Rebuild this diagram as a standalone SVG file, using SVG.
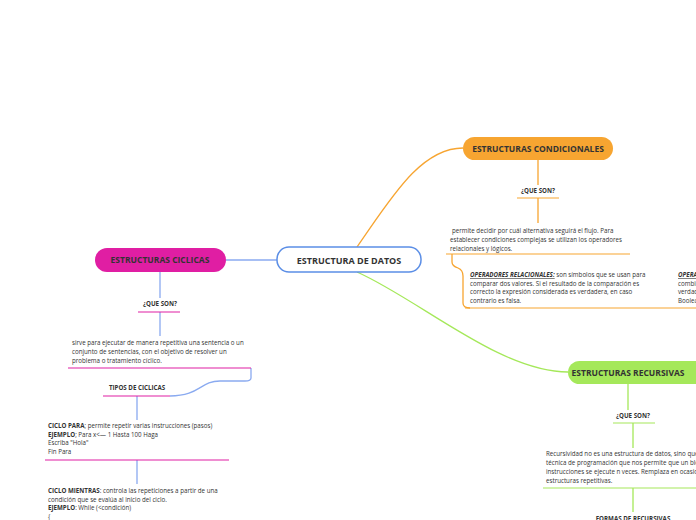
<svg xmlns="http://www.w3.org/2000/svg" width="696" height="520" viewBox="0 0 696 520">
<style>
text{font-family:"Open Sans","Liberation Sans",sans-serif;fill:#333}
.t{font-size:6.2px}
.b{font-weight:bold}
.h{font-size:8.5px;font-weight:bold;text-anchor:middle}
.q{font-size:6.2px;font-weight:bold;text-anchor:middle}
.o{stroke:#f7a531;fill:none}
.m{stroke:#e01ea3;fill:none}
.g{stroke:#a5e85a;fill:none}
.bl{stroke:#8aaaf0;fill:none}
</style>
<rect width="696" height="520" fill="#fff"/>
<g id="connectors" stroke-width="1.3">
<path class="bl" d="M277,260 H226"/>
<path class="o" d="M357,247 C390,200 420,148 463,148"/>
<path class="g" d="M357,272 C420,300 500,372 568,372"/>
<path class="o" d="M538,160 V185 M538,198 V223 M452,254 V262 Q452,266 458,268 Q463,270 463,276 V303 Q463,308 470,308"/>
<path class="bl" d="M160,272 V298 M160,312 V336 M137,396 V420 M137,460 V484"/>
<path class="bl" d="M251,368 V378 Q251,381 245,381 H220 C200,381 200,396 170,396"/>
<path class="g" d="M628,384 V410 M633,423 V448 M633,488 V512"/>
</g>
<g id="central">
<rect x="277" y="247" width="144" height="25" rx="12" fill="#fff" stroke="#5b8ee6" stroke-width="1.5"/>
<text x="349" y="263.5" class="h" style="font-size:9px">ESTRUCTURA DE DATOS</text>
</g>
<g id="ciclicas">
<rect x="95" y="248" width="131" height="24" rx="12" fill="#e01ea3"/>
<text x="160" y="263" class="h">ESTRUCTURAS CICLICAS</text>
<text x="160" y="306" class="q">¿QUE SON?</text>
<path class="m" d="M138,312 H180" stroke-width="1.2"/>
<text class="t"><tspan x="72" y="345">sirve para ejecutar de manera repetitiva una sentencia o un</tspan><tspan x="72" y="354">conjunto de sentencias, con el objetivo de resolver un</tspan><tspan x="72" y="363">problema o tratamiento cíclico.</tspan></text>
<path class="m" d="M68,368 H251" stroke-width="1.2"/>
<text x="137" y="390" class="q">TIPOS DE CICLICAS</text>
<path class="m" d="M103,396 H170" stroke-width="1.2"/>
<text class="t"><tspan x="48" y="428"><tspan class="b">CICLO PARA</tspan>; permite repetir varias instrucciones (pasos)</tspan><tspan x="48" y="436.5"><tspan class="b">EJEMPLO</tspan>; Para x&lt;— 1 Hasta 100 Haga</tspan><tspan x="48" y="445">Escriba "Hola"</tspan><tspan x="48" y="453.5">Fin Para</tspan></text>
<path class="m" d="M45,460 H229" stroke-width="1.2"/>
<text class="t"><tspan x="48" y="493"><tspan class="b">CICLO MIENTRAS</tspan>: controla las repeticiones a partir de una</tspan><tspan x="48" y="501.5">condición que se evalúa al inicio del ciclo.</tspan><tspan x="48" y="510"><tspan class="b">EJEMPLO</tspan>: While (&lt;condición)</tspan><tspan x="48" y="518.5">{</tspan></text>
</g>
<g id="condicionales">
<rect x="463" y="137" width="150" height="23" rx="11.5" fill="#f7a531"/>
<text x="538" y="151.5" class="h">ESTRUCTURAS CONDICIONALES</text>
<text x="538" y="193" class="q">¿QUE SON?</text>
<path class="o" d="M517,198 H559" stroke-width="1.2"/>
<text class="t"><tspan x="452" y="233">permite decidir por cuál alternativa seguirá el flujo. Para</tspan><tspan x="450" y="242">establecer condiciones complejas se utilizan los operadores</tspan><tspan x="450" y="251">relacionales y lógicos.</tspan></text>
<path class="o" d="M446,254 H630" stroke-width="1.2"/>
<text class="t"><tspan x="470" y="277"><tspan class="b" style="font-style:italic;text-decoration:underline">OPERADORES RELACIONALES:</tspan>  son símbolos que se usan para</tspan><tspan x="470" y="285.5">comparar dos valores. Si el resultado de la comparación es</tspan><tspan x="470" y="294">correcto la expresión considerada es verdadera, en caso</tspan><tspan x="470" y="302.5">contrario es falsa.</tspan></text>
<path class="o" d="M465,308 H696" stroke-width="1.2"/>
<text class="t"><tspan x="678" y="277" class="b" style="font-style:italic;text-decoration:underline">OPERADORES</tspan><tspan x="678" y="285.5">combinan</tspan><tspan x="678" y="294">verdadero</tspan><tspan x="678" y="302.5">Booleanos</tspan></text>
</g>
<g id="recursivas">
<rect x="568" y="361" width="140" height="23" rx="11.5" fill="#a5e85a"/>
<text x="628" y="375.5" class="h">ESTRUCTURAS RECURSIVAS</text>
<text x="633" y="418" class="q">¿QUE SON?</text>
<path class="g" d="M613,423 H655" stroke-width="1.2"/>
<text class="t"><tspan x="546" y="456">Recursividad no es una estructura de datos, sino que es una</tspan><tspan x="546" y="465">técnica de programación que nos permite que un bloque de</tspan><tspan x="546" y="474">instrucciones se ejecute n veces. Remplaza en ocasiones a</tspan><tspan x="546" y="483">estructuras repetitivas.</tspan></text>
<path class="g" d="M543,488 H696" stroke-width="1.2"/>
<text x="633" y="521" class="q">FORMAS DE RECURSIVAS</text>
</g>
</svg>
